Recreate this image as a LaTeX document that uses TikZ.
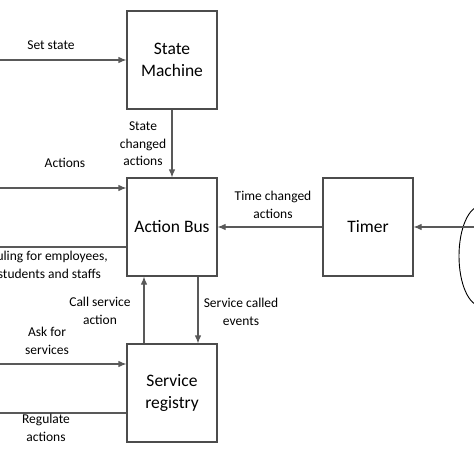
\documentclass[tikz,border=0pt]{standalone}
\usepackage{fontspec}
\setmainfont{Carlito}
\usetikzlibrary{arrows.meta,shapes.geometric}
\begin{document}
\begin{tikzpicture}[x=1pt,y=-1pt,
  box/.style={draw=black!70,line width=1.1pt,minimum width=90pt,minimum height=98pt,inner sep=0pt,font=\fontsize{17.5}{22}\selectfont,align=center},
  lbl/.style={font=\fontsize{13.5}{17.5}\selectfont,align=center,inner sep=0pt},
  arr/.style={draw=black!65,line width=1.1pt,-{Latex[length=8pt,width=6.5pt]}},
  ln/.style={draw=black!65,line width=1.1pt}]
\useasboundingbox (0,0) rectangle (474,474);
\clip (0,0) rectangle (474,474);
\node[box] (sm) at (172,60) {State\\Machine};
\node[box] (ab) at (172,227) {Action Bus};
\node[box] (sr) at (172,393) {Service\\registry};
\node[box] (tm) at (368,227) {Timer};
\node[draw=black,line width=0.9pt,ellipse,minimum width=44pt,minimum height=100pt,inner sep=0pt] (el) at (481,256) {};
\coordinate (l1) at (0,60);
\coordinate (l2) at (0,188);
\coordinate (l3) at (0,247);
\coordinate (l4) at (0,364);
\coordinate (l5) at (0,413);
\coordinate (r1) at (474,227);
\draw[arr] (l1) -- (l1 -| sm.west);
\draw[arr] (l2) -- (l2 -| ab.west);
\draw[ln] (l3) -- (l3 -| ab.west);
\draw[arr] (l4) -- (l4 -| sr.west);
\draw[ln] (l5) -- (l5 -| sr.west);
\draw[arr] (sm.south) -- (ab.north);
\draw[arr] (tm.west) -- (ab.east);
\draw[arr] (r1) -- (tm.east);
\draw[arr] (sr.north -| 144,0) -- (ab.south -| 144,0);
\draw[arr] (ab.south -| 198,0) -- (sr.north -| 198,0);
\node[lbl] (t1) at (51,45) {Set state};
\node[lbl] (t2) at (143,144) {State\\changed\\actions};
\node[lbl] (t3) at (65,163) {Actions};
\node[lbl,anchor=east] (t4a) at (108,257) {Scheduling for employees,};
\node[lbl,anchor=east] (t4b) at (101,274) {students and staffs};
\node[lbl] (t5) at (100,311) {Call service\\action};
\node[lbl] (t6) at (241,312) {Service called\\events};
\node[lbl] (t7) at (47,341) {Ask for\\services};
\node[lbl] (t8) at (46,428) {Regulate\\actions};
\node[lbl] (t9) at (273,205) {Time changed\\actions};
\end{tikzpicture}
\end{document}
